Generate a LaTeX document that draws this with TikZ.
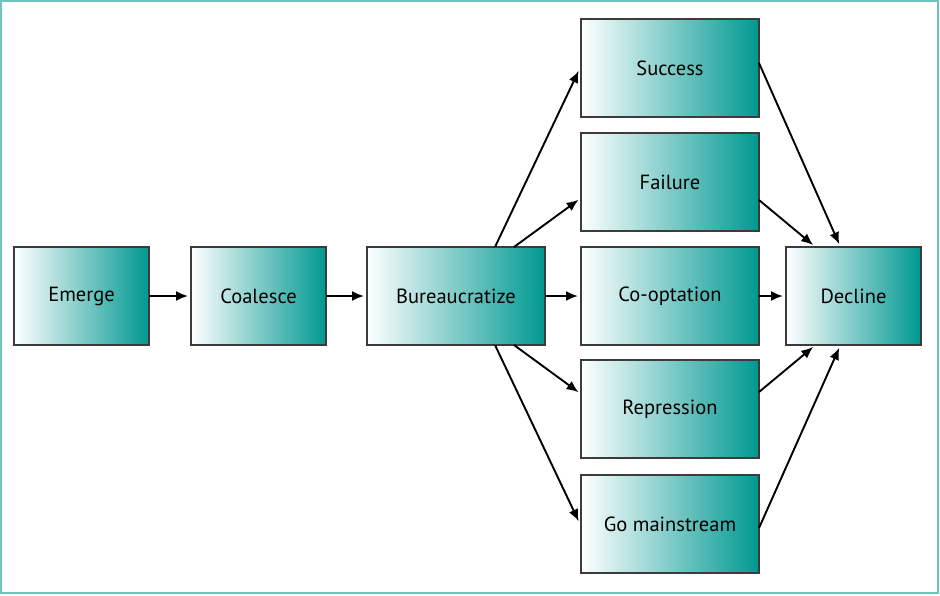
\documentclass[tikz,border=0pt]{standalone}
\usepackage{fontspec}
\setmainfont{PT Sans}
\usepackage{tikz}
\usetikzlibrary{arrows.meta,positioning}
\definecolor{stageteal}{RGB}{0,152,145}
\definecolor{stageframe}{RGB}{60,60,60}
\definecolor{outerframe}{RGB}{110,196,192}

\begin{document}
\begin{tikzpicture}[x=1pt, y=1pt,
  >={Latex[length=12pt,width=10pt]},
  stage/.style={draw=stageframe, line width=1.1pt, left color=white, right color=stageteal,
                minimum height=98pt, inner sep=0pt, outer sep=0pt,
                font=\fontsize{20.5}{22}\selectfont},
  narrow/.style={stage, minimum width=135pt},
  wide/.style={stage, minimum width=178pt},
  link/.style={->, line width=1.9pt, shorten >=3pt}]
\useasboundingbox (0,0) rectangle (940,-595);
\draw[outerframe, line width=2pt] (1,-1) rectangle (938,-593);
\node[narrow] (emerge) at (81.5,-296) {Emerge};
\node[narrow, right=42pt of emerge] (coalesce) {Coalesce};
\node[wide, right=41pt of coalesce] (bureau) {Bureaucratize};
\node[wide, right=36pt of bureau] (coopt) {Co-optation};
\node[wide, above=16pt of coopt] (failure) {Failure};
\node[wide, above=16pt of failure] (success) {Success};
\node[wide, below=15pt of coopt] (repression) {Repression};
\node[wide, below=17pt of repression] (mainstream) {Go mainstream};
\node[narrow, right=27pt of coopt] (decline) {Decline};
% main line
\draw[link] (emerge) -- (coalesce);
\draw[link] (coalesce) -- (bureau);
\draw[link] (bureau) -- (coopt);
\draw[link] (coopt) -- (decline);
% fan out
\draw[link] ([xshift=-50pt]bureau.north east) -- ([xshift=-1pt]success.west);
\draw[link] ([xshift=-31pt]bureau.north east) -- ([yshift=-16pt]failure.west);
\draw[link] ([xshift=-31pt]bureau.south east) -- ([yshift=15pt]repression.west);
\draw[link] ([xshift=-50pt]bureau.south east) -- ([xshift=-1pt]mainstream.west);
% fan in
\draw[link] ([yshift=5pt]success.east) -- ([xshift=-13pt]decline.north);
\draw[link] ([yshift=-18pt]failure.east) -- ([xshift=-38pt]decline.north);
\draw[link] ([yshift=17pt]repression.east) -- ([xshift=-38pt]decline.south);
\draw[link] ([yshift=-4pt]mainstream.east) -- ([xshift=-13pt]decline.south);
\end{tikzpicture}
\end{document}
